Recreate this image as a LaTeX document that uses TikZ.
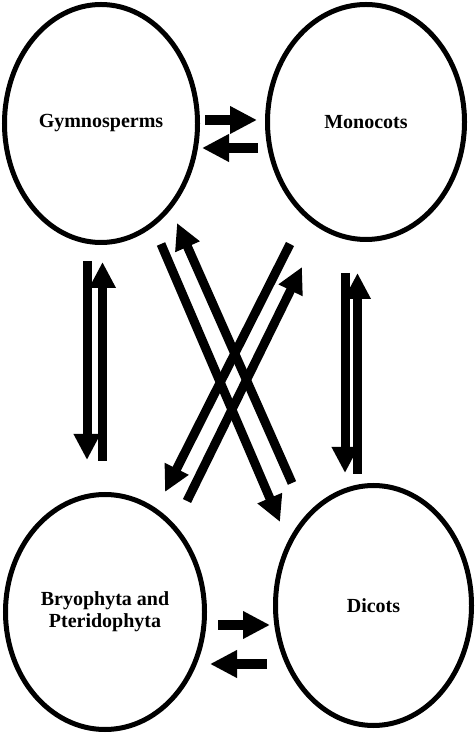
\documentclass[tikz,border=0pt]{standalone}
\usepackage{fontspec}
\setmainfont{Liberation Serif}
\usetikzlibrary{arrows.meta,shapes.geometric}

\begin{document}
\begin{tikzpicture}[x=1pt,y=1pt,
  taxon/.style={ellipse, draw, line width=5pt, inner sep=0pt, align=center,
    font=\bfseries\fontsize{20}{22}\selectfont},
  flow/.style={line width=10pt, -{Triangle[width=26pt,length=27pt]}},
  vflow/.style={line width=9pt, -{Triangle[width=25pt,length=26pt]}}]
\useasboundingbox (0,0) rectangle (474,733);

\node [taxon, minimum width=193pt, minimum height=238pt] (gym) at (101,609.5) {Gymnosperms};
\node [taxon, minimum width=197pt, minimum height=235pt] (mono) at (366,611) {Monocots};
\node [taxon, minimum width=199pt, minimum height=235pt] (bryo) at (105,121) {Bryophyta and\\Pteridophyta};
\node [taxon, minimum width=196pt, minimum height=240pt] (dico) at (373.5,127.5) {Dicots};

% ends of the connectors
\coordinate (gm1) at (205,613);   \coordinate (gm2) at (257,613);
\coordinate (mg1) at (258,585);   \coordinate (mg2) at (202,585);
\coordinate (bd1) at (218,108);   \coordinate (bd2) at (270,108);
\coordinate (db1) at (267,69);    \coordinate (db2) at (210,69);
\coordinate (gb1) at (87,472);    \coordinate (gb2) at (87,273);
\coordinate (bg1) at (102.5,272); \coordinate (bg2) at (102.5,471);
\coordinate (md1) at (345,460);   \coordinate (md2) at (345,260);
\coordinate (dm1) at (357.5,259); \coordinate (dm2) at (357.5,460);
\coordinate (gd1) at (161,489);   \coordinate (gd2) at (280,211);
\coordinate (dg1) at (292,250);   \coordinate (dg2) at (177,510);
\coordinate (mb1) at (290,489);   \coordinate (mb2) at (165,241);
\coordinate (bm1) at (187,232);   \coordinate (bm2) at (302,466);

% horizontal pairs
\draw [flow] (gm1) -- (gm2);
\draw [flow] (mg1) -- (mg2);
\draw [flow] (bd1) -- (bd2);
\draw [flow] (db1) -- (db2);

% vertical pairs
\draw [vflow] (gb1) -- (gb2);
\draw [vflow] (bg1) -- (bg2);
\draw [vflow] (md1) -- (md2);
\draw [vflow] (dm1) -- (dm2);

% crossing pairs
\draw [vflow] (gd1) -- (gd2);
\draw [vflow] (dg1) -- (dg2);
\draw [vflow] (mb1) -- (mb2);
\draw [vflow] (bm1) -- (bm2);
\end{tikzpicture}
\end{document}
